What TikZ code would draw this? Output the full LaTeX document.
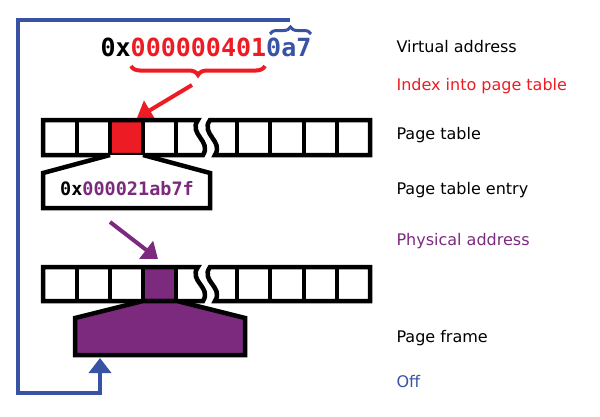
\documentclass[tikz,border=0pt]{standalone}
\usepackage{fontspec}
\setmainfont{DejaVu Sans}
\newfontfamily\monof{DejaVu Sans Mono}
\usetikzlibrary{arrows.meta,decorations.pathreplacing}
\definecolor{vred}{HTML}{ED1C24}
\definecolor{vblue}{HTML}{3953A4}
\definecolor{vpurp}{HTML}{7B2A7E}
\tikzset{
 bar/.style={line width=4.5pt,fill=white,line join=miter},
 lbl/.style={anchor=west,font=\fontsize{16}{19}\selectfont},
 arr/.style={line width=4pt,-{Triangle[length=15pt,width=22pt]}},
}
\newcommand{\pgbar}[4]{% y1 y2 cell-left cell-color
 \fill[#4] (#3,#1) rectangle ++(33,#2-#1);
 \draw[bar,fill=none] (43,#1)--(198,#1) .. controls (188,#1+14) and (212,#2-14) .. (203,#2)--(43,#2)--cycle;
 \draw[bar,fill=none] (370,#1)--(210,#1) .. controls (200,#1+14) and (224,#2-14) .. (215,#2)--(370,#2)--cycle;
 \foreach \xx in {77,110,143,176,237,270,304,337}{\draw[line width=4.5pt] (\xx,#1)--(\xx,#2);}
}
\begin{document}
\begin{tikzpicture}[x=1pt,y=-1pt]
\useasboundingbox (0,0) rectangle (600,416);
% virtual address
\node[font=\monof\bfseries\fontsize{25}{30}\selectfont,inner sep=0] (va) at (206,47) {0x\textcolor{vred}{000000401}\textcolor{vblue}{0a7}};
\draw[vred,line width=4pt,decorate,decoration={brace,mirror,amplitude=9pt}] (131,66)--(265,66);
\draw[vblue,line width=3pt,decorate,decoration={brace,amplitude=7pt}] (270,34)--(311,34);
\coordinate (rb) at (192,85);
\coordinate (rt) at (137,118);
\draw[arr,vred] (rb)--(rt);
% page table
\pgbar{120}{155}{110}{vred}
\draw[bar] (110,155)--(43,173)--(43,208)--(210,208)--(210,173)--(143,155);
\node[font=\monof\bfseries\fontsize{18.5}{22}\selectfont] (pten) at (127,189) {0x\textcolor{vpurp}{000021ab7f}};
\coordinate (pa1) at (110,222);
\coordinate (pa2) at (158,259);
\draw[arr,vpurp] (pa1)--(pa2);
% second bar
\pgbar{267}{301}{143}{vpurp}
\draw[bar,fill=vpurp] (143,301)--(75,318)--(75,355)--(245,355)--(245,318)--(177,301)--cycle;
\coordinate (c1) at (290,20);
\coordinate (c2) at (18,20);
\coordinate (c3) at (18,393);
\coordinate (c4) at (100,393);
\coordinate (c5) at (100,358);
\draw[vblue,line width=3.5pt,-{Triangle[length=15pt,width=22pt]}] (c1)--(c2)--(c3)--(c4)--(c5);
% labels
\node[lbl] (l1) at (393,47) {Virtual address};
\node[lbl,vred] (l2) at (393,86) {Index into page table};
\node[lbl] (l3) at (393,135) {Page table};
\node[lbl] (l4) at (393,190) {Page table entry};
\node[lbl,vpurp] (l5) at (393,241) {Physical address};
\node[lbl] (l6) at (393,338) {Page frame};
\node[lbl,vblue] (l7) at (393,382) {Off};
\end{tikzpicture}
\end{document}
